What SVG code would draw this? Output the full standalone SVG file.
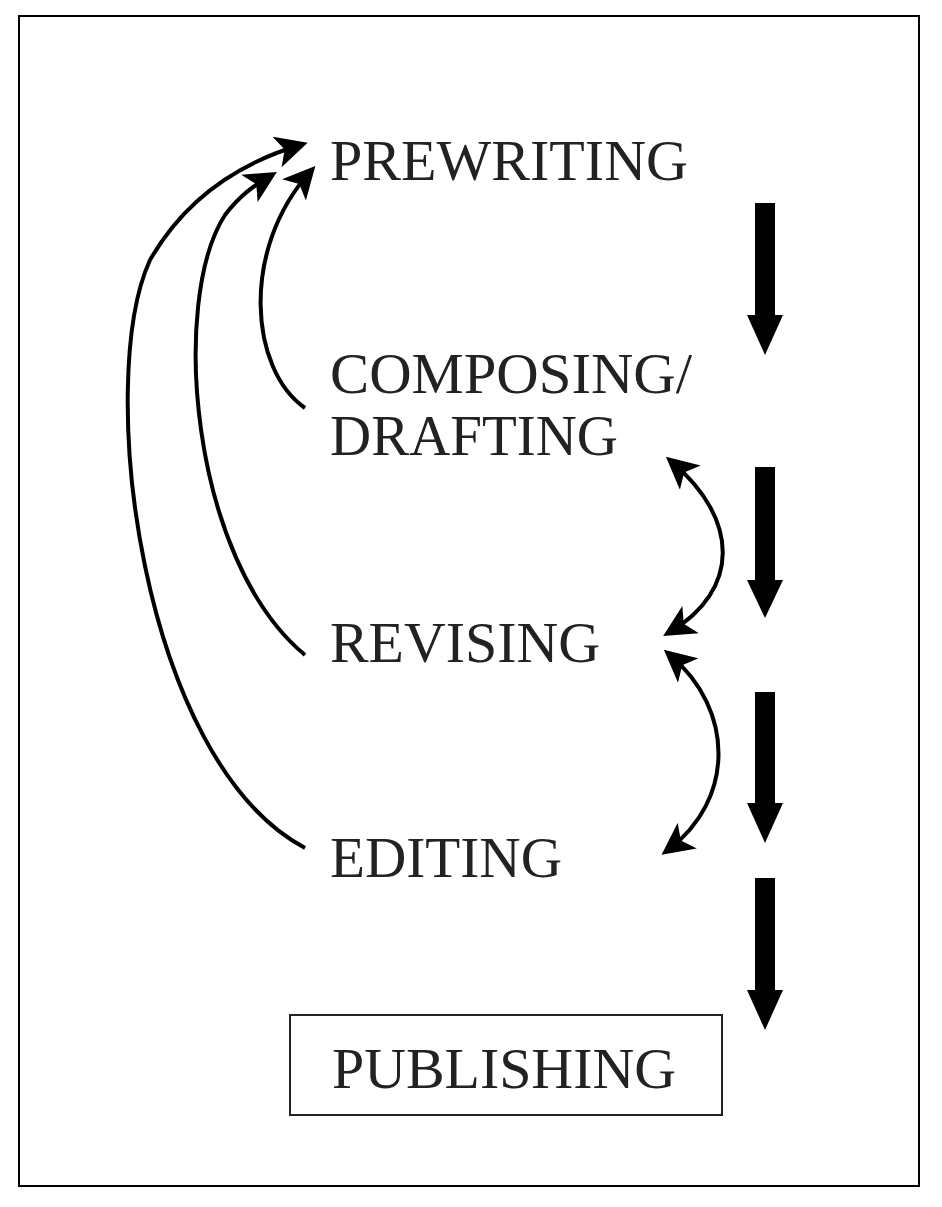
<svg xmlns="http://www.w3.org/2000/svg" width="942" height="1207" viewBox="0 0 942 1207">
<style>
text{font-family:"Liberation Serif",serif;font-size:57px;fill:#222}
.c{fill:none;stroke:#000;stroke-width:4}
.b{fill:#000}
</style>
<defs>
<marker id="ah" markerWidth="8" markerHeight="8" refX="6" refY="4" orient="auto-start-reverse" markerUnits="strokeWidth"><path d="M0,0 L8,4 L0,8 L2,4 Z" fill="#000"/></marker>
</defs>
<rect x="19" y="16" width="900" height="1170" fill="#fff" stroke="#000" stroke-width="2"/>
<g id="prewriting"><text x="330" y="180" textLength="358" lengthAdjust="spacingAndGlyphs">PREWRITING</text></g>
<g id="composing"><text x="330" y="393" textLength="362" lengthAdjust="spacingAndGlyphs">COMPOSING/</text><text x="330" y="455" textLength="288" lengthAdjust="spacingAndGlyphs">DRAFTING</text></g>
<g id="revising"><text x="330" y="662" textLength="270" lengthAdjust="spacingAndGlyphs">REVISING</text></g>
<g id="editing"><text x="330" y="877" textLength="232" lengthAdjust="spacingAndGlyphs">EDITING</text></g>
<g id="publishing"><rect x="290" y="1015" width="432" height="100" fill="#fff" stroke="#222" stroke-width="2"/><text x="332" y="1088" textLength="344" lengthAdjust="spacingAndGlyphs">PUBLISHING</text></g>
<g id="connectors">
<path class="c" marker-end="url(#ah)" d="M305,848 C140,760 95,380 150,260 C190,190 250,160 300,145"/>
<path class="c" marker-end="url(#ah)" d="M305,655 C190,560 170,300 225,215 C240,195 255,185 270,176"/>
<path class="c" marker-end="url(#ah)" d="M305,408 C250,370 240,250 310,172"/>
<path class="c" marker-start="url(#ah)" marker-end="url(#ah)" d="M672,462 C740,520 740,590 670,632"/>
<path class="c" marker-start="url(#ah)" marker-end="url(#ah)" d="M670,655 C735,710 735,800 668,850"/>
<path class="b" d="M755,203 H775 V315 H783 L765,355 L747,315 H755 Z"/>
<path class="b" d="M755,467 H775 V580 H783 L765,618 L747,580 H755 Z"/>
<path class="b" d="M755,692 H775 V803 H783 L765,843 L747,803 H755 Z"/>
<path class="b" d="M755,878 H775 V990 H783 L765,1030 L747,990 H755 Z"/>
</g>
</svg>
